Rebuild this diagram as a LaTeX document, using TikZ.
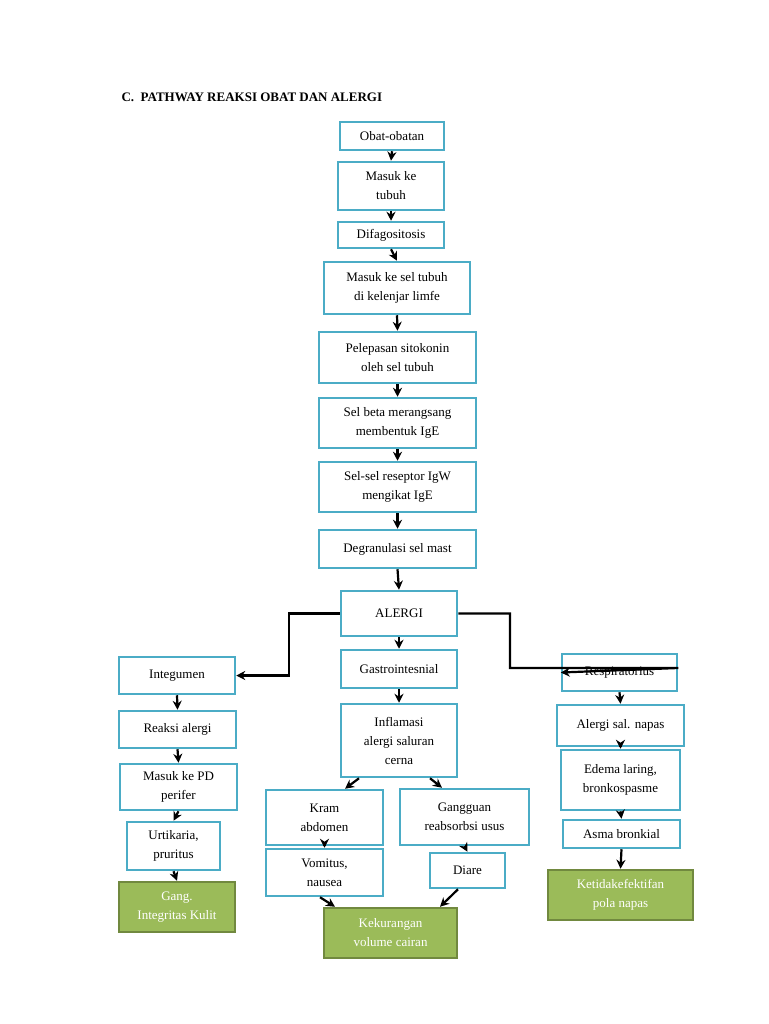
\documentclass[tikz,border=0pt]{standalone}
\usepackage{fontspec}
\setmainfont{Liberation Serif}
\usetikzlibrary{arrows.meta}
\begin{document}
\begin{tikzpicture}[x=1pt,y=-1pt,
 box/.style={draw=cyan!50!blue!60!teal, draw={rgb,255:red,75;green,172;blue,198}, line width=2.5pt, fill=white, align=center, font=\fontsize{13}{19}\selectfont, inner sep=0pt},
 gbox/.style={box, draw={rgb,255:red,113;green,137;blue,63}, fill={rgb,255:red,155;green,187;blue,89}, text=white},
 ar/.style={line width=2.2pt, -{Stealth[length=9pt,width=9pt]}}]
\useasboundingbox (0,0) rectangle (768,1024);
\node[font=\bfseries\fontsize{13}{15}\selectfont, anchor=west] (title) at (118,97) {C.\ \ PATHWAY REAKSI OBAT DAN ALERGI};
\newcommand{\bx}[6]{\node[#1, minimum width={#4-#2}, minimum height={#5-#3}] (#6) at ({(#2+#4)/2},{(#3+#5)/2})}
\bx{box}{340}{122}{444}{150}{a}{Obat-obatan};
\bx{box}{338}{162}{444}{210}{b}{Masuk ke\\tubuh};
\bx{box}{338}{222}{444}{248}{c}{Difagositosis};
\bx{box}{324}{262}{470}{314}{d}{Masuk ke sel tubuh\\di kelenjar limfe};
\bx{box}{319}{332}{476}{383}{e}{Pelepasan sitokonin\\oleh sel tubuh};
\bx{box}{319}{398}{476}{448}{f}{Sel beta merangsang\\membentuk IgE};
\bx{box}{319}{462}{476}{512}{g}{Sel-sel reseptor IgW\\mengikat IgE};
\bx{box}{319}{530}{476}{568}{h}{Degranulasi sel mast};
\bx{box}{341}{591}{457}{636}{al}{ALERGI};
\bx{box}{119}{657}{235}{694}{i1}{Integumen};
\bx{box}{119}{711}{236}{748}{i2}{Reaksi alergi};
\bx{box}{120}{764}{237}{810}{i3}{Masuk ke PD\\perifer};
\bx{box}{127}{822}{220}{870}{i4}{Urtikaria,\\pruritus};
\bx{gbox}{119}{882}{235}{932}{i5}{Gang.\\Integritas Kulit};
\bx{box}{341}{650}{457}{688}{g1}{Gastrointesnial};
\bx{box}{341}{704}{457}{777}{g2}{Inflamasi\\alergi saluran\\cerna};
\bx{box}{266}{790}{383}{845}{g3}{Kram\\abdomen};
\bx{box}{400}{789}{529}{845}{g4}{Gangguan\\reabsorbsi usus};
\bx{box}{266}{849}{383}{896}{g5}{Vomitus,\\nausea};
\bx{box}{430}{853}{505}{888}{g6}{Diare};
\bx{gbox}{324}{908}{457}{958}{g7}{Kekurangan\\volume cairan};
\bx{box}{562}{654}{677}{691}{r1}{Respiratorius};
\bx{box}{557}{705}{684}{746}{r2}{Alergi sal. napas};
\bx{box}{561}{750}{680}{810}{r3}{Edema laring,\\bronkospasme};
\bx{box}{563}{820}{680}{848}{r4}{Asma bronkial};
\bx{gbox}{548}{870}{693}{920}{r5}{Ketidakefektifan\\pola napas};
\foreach \u/\v in {a/b,b/c,c/d,d/e,e/f,f/g,g/h,h/al,al/g1,g1/g2,i1/i2,i2/i3,i3/i4,i4/i5,r1/r2,r2/r3,r3/r4,r4/r5,g3/g5,g4/g6}
  \draw[ar] (\u.south) -- (\v.north);
\draw[ar] (al.west) -| (289,640) |- (i1.east);
\draw[ar] (al.east) -| (510,640) |- (r1.east |- 668,668) -- (r1.west);
\draw[ar] (g2.south -| 359,777) -- (g3.north -| 345,790);
\draw[ar] (g2.south -| 430,777) -- (g4.north -| 442,789);
\draw[ar] (g5.south -| 320,896) -- (g7.north -| 335,908);
\draw[ar] (g6.south -| 458,888) -- (g7.north -| 440,908);
\end{tikzpicture}
\end{document}
